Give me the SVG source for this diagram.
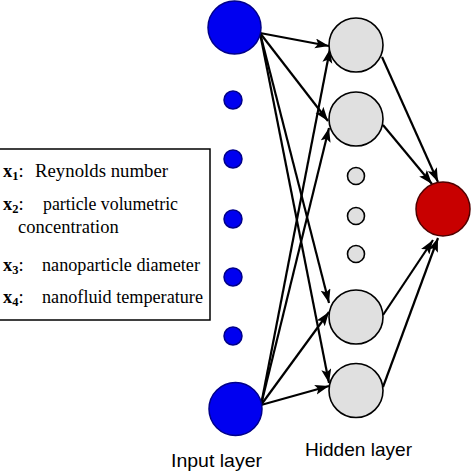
<svg xmlns="http://www.w3.org/2000/svg" width="474" height="474" viewBox="0 0 474 474">
<style>
.in{fill:#0000f0;stroke:#00008a;stroke-width:1.5}
.hid{fill:#e0e0e0;stroke:#000;stroke-width:1.6}
.out{fill:#c80000;stroke:#500000;stroke-width:1.5}
.c line{stroke:#000;stroke-width:2.2;marker-end:url(#ah)}
.lg{font-family:"Liberation Serif","Times New Roman",serif;font-size:18.5px;fill:#000}
.b{font-weight:bold}
.lab{font-family:"Liberation Sans",Arial,sans-serif;font-size:18.5px;fill:#000}
</style>
<defs>
<marker id="ah" markerUnits="userSpaceOnUse" markerWidth="15" markerHeight="11" refX="14" refY="5" orient="auto">
<path d="M0,0 L14,5 L0,10 L3,5 z" fill="#000"/>
</marker>
</defs>
<rect width="474" height="474" fill="#fff"/>
<g id="connectors" class="c">
<line x1="260" y1="33" x2="329" y2="46"/>
<line x1="260" y1="33" x2="328" y2="121"/>
<line x1="260" y1="33" x2="329" y2="303"/>
<line x1="260" y1="33" x2="329" y2="383"/>
<line x1="261" y1="405" x2="330" y2="49"/>
<line x1="261" y1="405" x2="329" y2="128"/>
<line x1="261" y1="405" x2="329" y2="312"/>
<line x1="261" y1="405" x2="329" y2="386"/>
<line x1="382" y1="57" x2="438" y2="182"/>
<line x1="383" y1="125" x2="432" y2="184"/>
<line x1="383" y1="315" x2="433" y2="240"/>
<line x1="383" y1="387" x2="438" y2="238"/>
</g>
<g id="input1"><circle class="in" cx="234.5" cy="27.5" r="26.5"/></g>
<g id="input-dot1"><circle class="in" cx="233" cy="100" r="9"/></g>
<g id="input-dot2"><circle class="in" cx="233" cy="159" r="9"/></g>
<g id="input-dot3"><circle class="in" cx="233" cy="219" r="9"/></g>
<g id="input-dot4"><circle class="in" cx="233" cy="277" r="9"/></g>
<g id="input-dot5"><circle class="in" cx="233" cy="336" r="9"/></g>
<g id="input2"><circle class="in" cx="235.5" cy="409" r="26.5"/></g>
<g id="hidden1"><circle class="hid" cx="356" cy="45" r="27"/></g>
<g id="hidden2"><circle class="hid" cx="356" cy="119" r="27"/></g>
<g id="hidden-dot1"><circle class="hid" cx="356" cy="176" r="8.5"/></g>
<g id="hidden-dot2"><circle class="hid" cx="356" cy="216" r="8.5"/></g>
<g id="hidden-dot3"><circle class="hid" cx="356" cy="254" r="8.5"/></g>
<g id="hidden3"><circle class="hid" cx="356" cy="317" r="27"/></g>
<g id="hidden4"><circle class="hid" cx="356" cy="390.5" r="27"/></g>
<g id="output"><circle class="out" cx="443" cy="209" r="27"/></g>
<g id="legend">
<rect x="-1" y="149" width="211" height="171" fill="#fff" stroke="#000" stroke-width="1.5"/>
<text class="lg" x="3" y="177"><tspan class="b">x</tspan><tspan class="b" font-size="12.5" dy="3">1</tspan><tspan dy="-3">:</tspan></text>
<text class="lg" x="35" y="177" textLength="133" lengthAdjust="spacingAndGlyphs">Reynolds number</text>
<text class="lg" x="3" y="210"><tspan class="b">x</tspan><tspan class="b" font-size="12.5" dy="3">2</tspan><tspan dy="-3">:</tspan></text>
<text class="lg" x="43" y="210" textLength="135" lengthAdjust="spacingAndGlyphs">particle volumetric</text>
<text class="lg" x="18" y="233">concentration</text>
<text class="lg" x="3" y="271"><tspan class="b">x</tspan><tspan class="b" font-size="12.5" dy="3">3</tspan><tspan dy="-3">:</tspan></text>
<text class="lg" x="42" y="271" textLength="158" lengthAdjust="spacingAndGlyphs">nanoparticle diameter</text>
<text class="lg" x="3" y="303"><tspan class="b">x</tspan><tspan class="b" font-size="12.5" dy="3">4</tspan><tspan dy="-3">:</tspan></text>
<text class="lg" x="42" y="303" textLength="161" lengthAdjust="spacingAndGlyphs">nanofluid temperature</text>
</g>
<text class="lab" x="171" y="467" textLength="91" lengthAdjust="spacingAndGlyphs">Input layer</text>
<text class="lab" x="305" y="456" textLength="107" lengthAdjust="spacingAndGlyphs">Hidden layer</text>
</svg>
